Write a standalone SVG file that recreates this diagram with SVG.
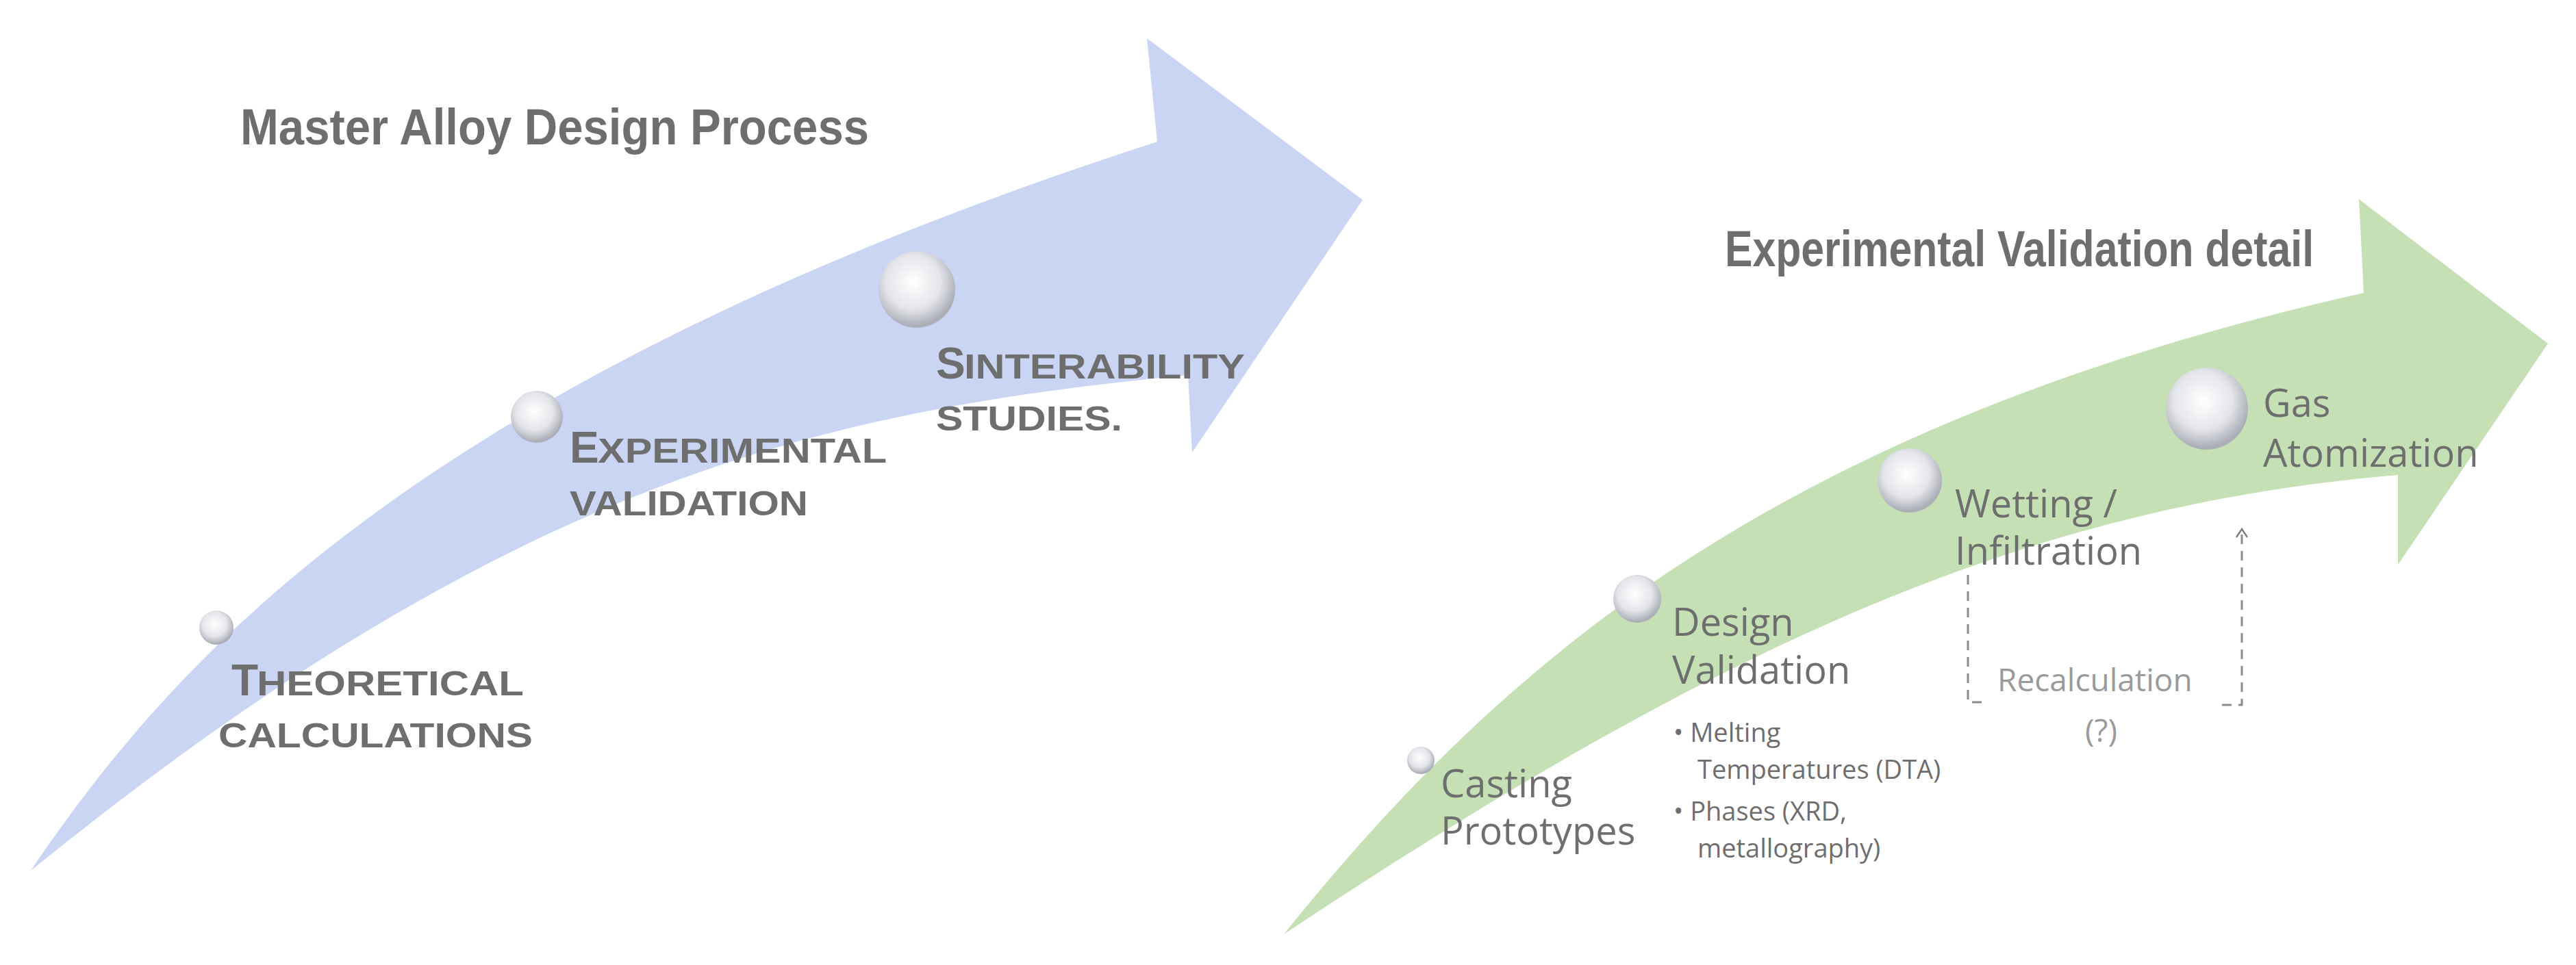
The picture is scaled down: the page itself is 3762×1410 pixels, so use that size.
<svg xmlns="http://www.w3.org/2000/svg" width="3762" height="1410" viewBox="0 0 3762 1410">
<defs>
<radialGradient id="sph" cx="0.45" cy="0.4" r="0.65">
<stop offset="0" stop-color="#ffffff"/><stop offset="0.55" stop-color="#e4e5ea"/><stop offset="0.9" stop-color="#a9abb5"/><stop offset="1" stop-color="#c8cad2"/>
</radialGradient>
<marker id="ah" viewBox="0 0 20 20" refX="17" refY="10" markerWidth="20" markerHeight="20" markerUnits="userSpaceOnUse" orient="auto">
<path d="M5 2 L17 10 L5 18" fill="none" stroke="#7f7f7f" stroke-width="2.5"/>
</marker>
<style>
.h{font-family:"Liberation Sans",Arial,sans-serif;font-weight:bold;fill:#6e6e6e}
.b{font-family:"Liberation Sans",Arial,sans-serif;font-weight:bold;fill:#6e6e6e;font-size:50px}
.c{font-family:"Liberation Sans",Arial,sans-serif;font-weight:bold;fill:#6e6e6e;font-size:64px}
.g{font-family:"Open Sans","Noto Sans",sans-serif;fill:#6e6e6e;font-size:56px}
.s{font-family:"Open Sans","Noto Sans",sans-serif;fill:#6e6e6e;font-size:38px}
.r{font-family:"Open Sans","Noto Sans",sans-serif;fill:#9a9a9a;font-size:46px}
.d{fill:none;stroke:#8c8c8c;stroke-width:3;stroke-dasharray:14 10}
</style>
</defs>
<g id="blue-arrow">
<path d="M45 1272 C 250 970 600 560 1690 207 L1675 56 L1990 292 L1741 661 L1735 548 C 1200 600 750 700 45 1272 Z" fill="#c9d5f3"/>
</g>
<g id="green-arrow">
<path d="M1875 1365 C 2200 960 2600 620 3452 428 L3445 291 L3721 502 L3502 825 L3502 694 C 2950 740 2500 950 1875 1365 Z" fill="#c5e0b4"/>
</g>
<text class="h" x="351" y="211" font-size="74" textLength="918" lengthAdjust="spacingAndGlyphs">Master Alloy Design Process</text>
<text class="h" x="2519" y="389" font-size="74" textLength="860" lengthAdjust="spacingAndGlyphs">Experimental Validation detail</text>
<g id="theoretical">
<circle cx="316" cy="917" r="25" fill="url(#sph)"/>
<text class="c" x="338" y="1016">T</text>
<text class="b" x="375" y="1016" textLength="390" lengthAdjust="spacingAndGlyphs">HEORETICAL</text>
<text class="b" x="319" y="1092" textLength="459" lengthAdjust="spacingAndGlyphs">CALCULATIONS</text>
</g>
<g id="experimental">
<circle cx="784" cy="609" r="38" fill="url(#sph)"/>
<text class="c" x="832" y="676">E</text>
<text class="b" x="873" y="676" textLength="422" lengthAdjust="spacingAndGlyphs">XPERIMENTAL</text>
<text class="b" x="832" y="753" textLength="348" lengthAdjust="spacingAndGlyphs">VALIDATION</text>
</g>
<g id="sinterability">
<circle cx="1339" cy="423" r="56" fill="url(#sph)"/>
<text class="c" x="1367" y="553">S</text>
<text class="b" x="1408" y="553" textLength="410" lengthAdjust="spacingAndGlyphs">INTERABILITY</text>
<text class="b" x="1367" y="629" textLength="272" lengthAdjust="spacingAndGlyphs">STUDIES.</text>
</g>
<g id="casting">
<circle cx="2075" cy="1111" r="20" fill="url(#sph)"/>
<text class="g" x="2104" y="1165">Casting</text>
<text class="g" x="2104" y="1234">Prototypes</text>
</g>
<g id="design">
<circle cx="2391" cy="875" r="35" fill="url(#sph)"/>
<text class="g" x="2442" y="929">Design</text>
<text class="g" x="2442" y="999">Validation</text>
<text class="s" x="2444" y="1084">• Melting</text>
<text class="s" x="2479" y="1138">Temperatures (DTA)</text>
<text class="s" x="2444" y="1199">• Phases (XRD,</text>
<text class="s" x="2479" y="1253">metallography)</text>
</g>
<g id="wetting">
<circle cx="2789" cy="702" r="47" fill="url(#sph)"/>
<text class="g" x="2855" y="756">Wetting /</text>
<text class="g" x="2855" y="825">Infiltration</text>
</g>
<g id="gas">
<circle cx="3223" cy="597" r="60" fill="url(#sph)"/>
<text class="g" x="3305" y="609">Gas</text>
<text class="g" x="3305" y="682">Atomization</text>
</g>
<g id="connectors">
<path class="d" d="M2874 840 V1026 H2895"/>
<path class="d" d="M3245 1030 H3274 V773" marker-end="url(#ah)"/>
</g>
<g id="recalc">
<text class="r" x="2917" y="1010">Recalculation</text>
<text class="r" x="3045" y="1084">(?)</text>
</g>
</svg>
